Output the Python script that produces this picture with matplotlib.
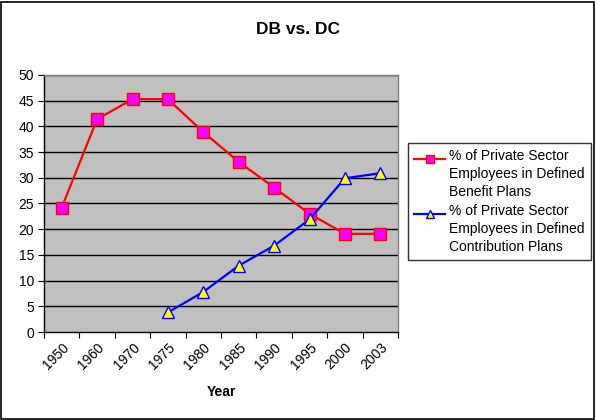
import matplotlib
matplotlib.use("Agg")
import matplotlib.pyplot as plt
from matplotlib.patches import Rectangle
from matplotlib.legend_handler import HandlerLine2D

years = ["1950", "1960", "1970", "1975", "1980", "1985", "1990", "1995", "2000", "2003"]
db_values = [24.2, 41.4, 45.3, 45.3, 38.9, 33.1, 28.1, 23.0, 19.1, 19.1]
dc_years = ["1975", "1980", "1985", "1990", "1995", "2000", "2003"]
dc_values = [3.8, 7.8, 12.9, 16.8, 21.9, 29.9, 30.9]
y_ticks = list(range(0, 51, 5))

plt.rcParams['font.family'] = ['Liberation Sans', 'DejaVu Sans']


class TopHandler(HandlerLine2D):
    """Place the legend handle next to the first line of a multi-line label."""
    def create_artists(self, legend, orig_handle, xdescent, ydescent, width, height, fontsize, trans):
        return super().create_artists(legend, orig_handle, xdescent, ydescent - 22.0,
                                      width, height, fontsize, trans)


W, H = 596, 420
fig = plt.figure(figsize=(W / 100, H / 100), dpi=100)
fig.patch.set_facecolor('white')
fig.patches.append(Rectangle((1 / W, 1 / H), (W - 3) / W, (H - 3) / H, transform=fig.transFigure,
                             fill=False, edgecolor='black', linewidth=1.2))

left, right, top, bottom = 44, 398, 75, 332
ax = fig.add_axes([left / W, 1 - bottom / H, (right - left) / W, (bottom - top) / H])
ax.set_facecolor('#C0C0C0')

idx = {y: i for i, y in enumerate(years)}
x_db = [idx[y] + 0.5 for y in years]
x_dc = [idx[y] + 0.5 for y in dc_years]

ax.set_xlim(0, len(years))
ax.set_ylim(0, 50)
ax.set_yticks(y_ticks)
for t in y_ticks[1:]:
    ax.axhline(t, color='black', linewidth=1.0, zorder=1)

l1, = ax.plot(x_db, db_values, color='#FF0000', linewidth=1.6, marker='s', markersize=8,
              markerfacecolor='#FF00FF', markeredgecolor='#FF0000', markeredgewidth=1.0,
              zorder=3, label='% of Private Sector\nEmployees in Defined\nBenefit Plans')
l2, = ax.plot(x_dc, dc_values, color='#0000FF', linewidth=1.6, marker='^', markersize=9,
              markerfacecolor='#FFFF00', markeredgecolor='#0000FF', markeredgewidth=1.0,
              zorder=4, label='% of Private Sector\nEmployees in Defined\nContribution Plans')

ax.set_xticks(range(len(years) + 1))
ax.set_xticklabels([])
ax.set_xticks([i + 0.5 for i in range(len(years))], minor=True)
ax.set_xticklabels(years, minor=True, rotation=45, ha='right', va='top', fontsize=10,
                   rotation_mode='anchor')
ax.tick_params(axis='x', which='minor', length=0, pad=6)
ax.tick_params(axis='x', which='major', length=4, direction='out', color='black')
ax.tick_params(axis='y', length=4, direction='out', labelsize=10, pad=3)

for s in ['left', 'bottom']:
    ax.spines[s].set_color('black')
    ax.spines[s].set_linewidth(1.0)
for s in ['top', 'right']:
    ax.spines[s].set_color('#808080')
    ax.spines[s].set_linewidth(1.0)

fig.text(298 / W, 1 - 30 / H, 'DB vs. DC', ha='center', va='center', fontsize=12.5, fontweight='bold')
fig.text(221 / W, 1 - 392 / H, 'Year', ha='center', va='center', fontsize=10, fontweight='bold')

leg = fig.legend(handles=[l1, l2], loc='upper left', bbox_to_anchor=(408 / W, 1 - 143 / H), fontsize=10,
                 frameon=True, fancybox=False, edgecolor='black', borderpad=0.45,
                 handlelength=2.2, handletextpad=0.3, labelspacing=0.35, borderaxespad=0,
                 handler_map={l1: TopHandler(), l2: TopHandler()})
leg.get_frame().set_linewidth(1.0)
for t in leg.get_texts():
    t.set_linespacing(1.35)
for h in leg.legend_handles:
    h.set_markersize(6)

fig.savefig('out.png', dpi=100)
